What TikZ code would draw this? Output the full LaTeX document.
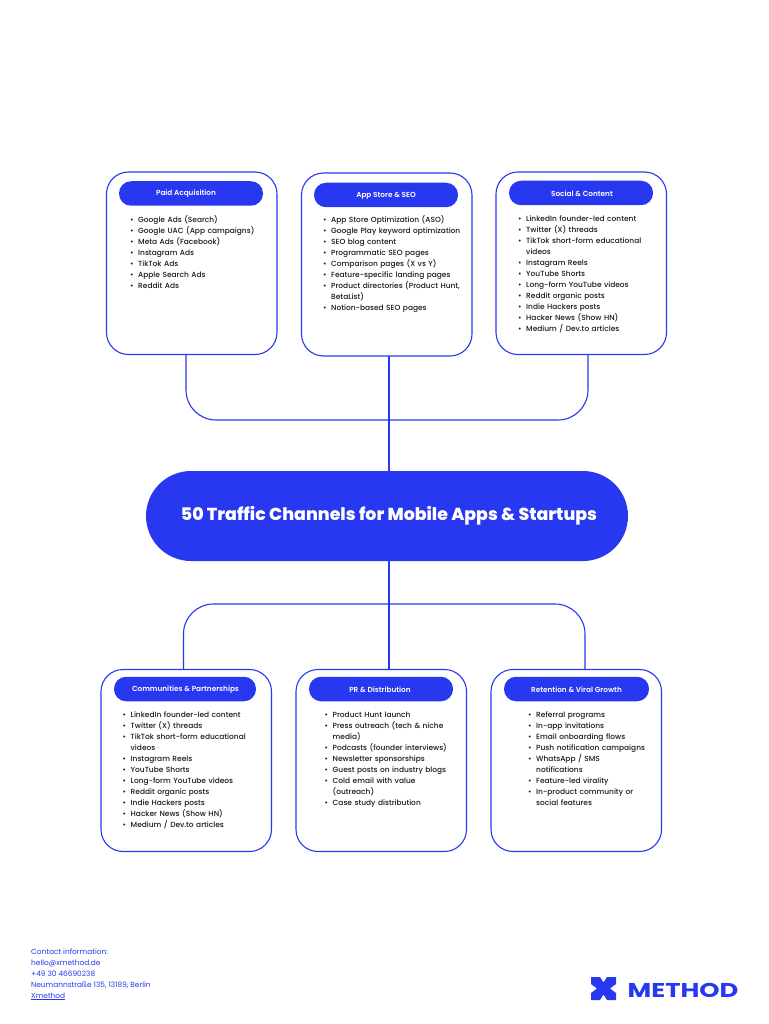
\documentclass[tikz,border=0pt]{standalone}
\usepackage{fontspec}
\setmainfont{Poppins}
\newfontfamily\medf{Poppins Medium}
\newfontfamily\semif{Poppins SemiBold}
\newfontfamily\boldf{Poppins ExtraBold}
\newfontfamily\logof{Poppins Bold}
\definecolor{xblue}{HTML}{2838F0}
\newcommand{\itm}{\par\leavevmode\llap{\textbullet\hspace{4.6pt}}}
\tikzset{
  card/.style={draw=xblue,line width=1.1pt,rounded corners=22pt,fill=white,inner sep=0pt},
  pill/.style={fill=xblue,rounded corners=12pt,inner sep=0pt,minimum height=24.5pt},
  pilltext/.style={text=white,inner sep=0pt,font=\semif\fontsize{7.3}{9}\selectfont},
  lst/.style={anchor=north west,inner sep=0pt,text width=150pt,align=left,text=black!90,
     font=\medf\fontsize{7.45}{11}\selectfont},
  link/.style={draw=xblue,line width=1.1pt,rounded corners=30pt},
  straight/.style={draw=xblue,line width=1.3pt},
  contact/.style={anchor=north west,inner sep=0pt,align=left,text=xblue,font=\fontsize{7.4}{10.9}\selectfont}
}
\begin{document}
\begin{tikzpicture}[x=1pt,y=-1pt]
\useasboundingbox (0,0) rectangle (768,1024);
\fill[white] (0,0) rectangle (768,1024);
% connector anchors
\coordinate (tl) at (186,354.5);
\coordinate (tm) at (389,356);
\coordinate (tr) at (588,354.5);
\coordinate (hn) at (389,471);
\coordinate (hs) at (389,561);
\coordinate (bl) at (183.5,669.5);
\coordinate (bm) at (389,669.5);
\coordinate (br) at (585,669.5);
\draw[link] (tl) |- (389,420) -| (tr);
\draw[link] (bl) |- (389,604) -| (br);
\draw[straight] (tm) -- (hn);
\draw[straight] (hs) -- (bm);
% centre
\node[fill=xblue,rounded corners=45pt,minimum width=482pt,minimum height=90pt,inner sep=0pt] (hub) at (387,516) {};
\node[text=white,font=\boldf\fontsize{17.35}{20}\selectfont,inner sep=0pt] (title) at (389,515.5) {50 Traffic Channels for Mobile Apps \& Startups};
% cards
\node[card,minimum width=170.5pt,minimum height=182.5pt] (c1) at (191.75,263.25) {};
\node[card,minimum width=170.5pt,minimum height=183pt] (c2) at (386.75,264.5) {};
\node[card,minimum width=170.5pt,minimum height=182.5pt] (c3) at (581.25,263.25) {};
\node[card,minimum width=170.5pt,minimum height=182pt] (c4) at (186.25,760.5) {};
\node[card,minimum width=170.5pt,minimum height=182pt] (c5) at (381.25,760.5) {};
\node[card,minimum width=170.5pt,minimum height=182pt] (c6) at (576.25,760.5) {};
% pills
\node[pill,minimum width=144pt] (p1) at (191,193.5) {};
\node[pill,minimum width=144pt] (p2) at (386,195) {};
\node[pill,minimum width=144pt] (p3) at (581,193) {};
\node[pill,minimum width=142pt] (p4) at (185,689) {};
\node[pill,minimum width=144pt] (p5) at (381,689) {};
\node[pill,minimum width=145pt] (p6) at (576.5,689) {};
\node[pilltext] (t1) at (186,194) {Paid Acquisition};
\node[pilltext] (t2) at (386,196) {App Store \& SEO};
\node[pilltext] (t3) at (582,193.5) {Social \& Content};
\node[pilltext] (t4) at (185.5,690) {Communities \& Partnerships};
\node[pilltext] (t5) at (380,690) {PR \& Distribution};
\node[pilltext] (t6) at (576.5,690) {Retention \& Viral Growth};
% lists
\node[lst] (l1) at (138,211.3) {\itm Google Ads (Search)\itm Google UAC (App campaigns)\itm Meta Ads (Facebook)\itm Instagram Ads\itm TikTok Ads\itm Apple Search Ads\itm Reddit Ads};
\node[lst] (l2) at (331,211.3) {\itm App Store Optimization (ASO)\itm Google Play keyword optimization\itm SEO blog content\itm Programmatic SEO pages\itm Comparison pages (X vs Y)\itm Feature-specific landing pages\itm Product directories (Product Hunt,\\BetaList)\itm Notion-based SEO pages};
\node[lst] (l3) at (526,210.3) {\itm LinkedIn founder-led content\itm Twitter (X) threads\itm TikTok short-form educational\\videos\itm Instagram Reels\itm YouTube Shorts\itm Long-form YouTube videos\itm Reddit organic posts\itm Indie Hackers posts\itm Hacker News (Show HN)\itm Medium / Dev.to articles};
\node[lst] (l4) at (130.5,706.4) {\itm LinkedIn founder-led content\itm Twitter (X) threads\itm TikTok short-form educational\\videos\itm Instagram Reels\itm YouTube Shorts\itm Long-form YouTube videos\itm Reddit organic posts\itm Indie Hackers posts\itm Hacker News (Show HN)\itm Medium / Dev.to articles};
\node[lst] (l5) at (332.5,706.4) {\itm Product Hunt launch\itm Press outreach (tech \& niche\\media)\itm Podcasts (founder interviews)\itm Newsletter sponsorships\itm Guest posts on industry blogs\itm Cold email with value\\(outreach)\itm Case study distribution};
\node[lst] (l6) at (536,706.4) {\itm Referral programs\itm In-app invitations\itm Email onboarding flows\itm Push notification campaigns\itm WhatsApp / SMS\\notifications\itm Feature-led virality\itm In-product community or\\social features};
% footer
\node[contact] (info) at (31,948.7) {Contact information:\\hello@xmethod.de\\+49 30 46690238\\Neumannstraße 135, 13189, Berlin\\\underline{Xmethod}};
% logo
\fill[xblue] (591,977) -- (600,977) -- (603.5,982.5) -- (607,977) -- (616,977) -- (616,984) -- (610,988.5) -- (616,993) -- (616,1000) -- (607,1000) -- (603.5,994.5) -- (600,1000) -- (591,1000) -- (591,993) -- (597,988.5) -- (591,984) -- cycle;
\node[text=xblue,font=\logof\fontsize{20}{20}\selectfont,inner sep=0pt] (logo) at (683,990) {\scalebox{1.29}[1]{METHOD}};
\end{tikzpicture}
\end{document}
